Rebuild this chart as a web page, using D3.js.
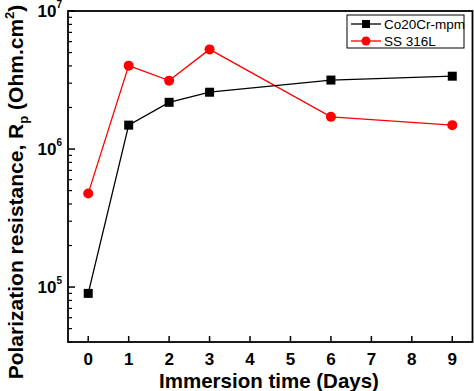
<!DOCTYPE html>
<html><head><meta charset="utf-8">
<script src="https://cdn.jsdelivr.net/npm/d3@7"></script>
<style>body{margin:0;background:#fff}svg{display:block}</style>
</head><body>
<script>
const days = [0, 1, 2, 3, 6, 9];
const coCr = [9.0e4, 1.49e6, 2.18e6, 2.58e6, 3.16e6, 3.37e6];
const ss316 = [4.77e5, 4.02e6, 3.13e6, 5.27e6, 1.71e6, 1.49e6];
const seriesNames = ["Co20Cr-mpm", "SS 316L"];
const xTicks = [0,1,2,3,4,5,6,7,8,9];
const yMajor = [1e5, 1e6, 1e7];

const W = 474, H = 391;
const L = 68, R = 472.5, T = 11, B = 342;
const svg = d3.select("body").append("svg").attr("width", W).attr("height", H);
const x = d3.scaleLinear().domain([-0.5, 9.5]).range([L, R]);
const y = d3.scaleLog().domain([4e4, 1e7]).range([B, T]);
const font = "'Liberation Sans', Arial, sans-serif";

const minor = [];
for (let e = 4; e < 7; e++) for (let m = 2; m <= 9; m++) { const v = m * Math.pow(10, e); if (v >= 4e4 && v < 1e7) minor.push(v); }

const yAxis = svg.append("g").attr("transform", `translate(${L},0)`);
yAxis.selectAll("line.minor").data(minor).join("line")
  .attr("x1", 0).attr("x2", 4).attr("y1", d => y(d)).attr("y2", d => y(d))
  .attr("stroke", "#000").attr("stroke-width", 1.2);
yAxis.selectAll("line.major").data(yMajor).join("line")
  .attr("x1", 0).attr("x2", 7).attr("y1", d => y(d)).attr("y2", d => y(d))
  .attr("stroke", "#000").attr("stroke-width", 1.5);
const yl = yAxis.selectAll("text").data(yMajor).join("text")
  .attr("x", -6).attr("y", d => y(d) + 6).attr("text-anchor", "end")
  .attr("font-family", font).attr("font-weight", "bold").attr("font-size", 17).attr("fill", "#000");
yl.append("tspan").text("10");
yl.append("tspan").text(d => Math.round(Math.log10(d))).attr("font-size", 10).attr("dy", -9);

const xAxis = svg.append("g");
xAxis.selectAll("line").data(xTicks).join("line")
  .attr("x1", d => x(d)).attr("x2", d => x(d)).attr("y1", B).attr("y2", B - 6)
  .attr("stroke", "#000").attr("stroke-width", 1.5);
xAxis.selectAll("text").data(xTicks).join("text")
  .attr("x", d => x(d)).attr("y", B + 23).attr("text-anchor", "middle")
  .attr("font-family", font).attr("font-weight", "bold").attr("font-size", 17).text(d => d);

svg.append("rect").attr("x", L).attr("y", T).attr("width", R - L).attr("height", B - T)
  .attr("fill", "none").attr("stroke", "#000").attr("stroke-width", 1.8);

svg.append("text").attr("x", 269).attr("y", 388).attr("text-anchor", "middle")
  .attr("font-family", font).attr("font-weight", "bold").attr("font-size", 20.5).text("Immersion time (Days)");
const yt = svg.append("text").attr("transform", `translate(23,192) rotate(-90)`)
  .attr("text-anchor", "middle").attr("font-family", font).attr("font-weight", "bold").attr("font-size", 21);
yt.append("tspan").text("Polarization resistance, R");
yt.append("tspan").text("p").attr("font-size", 13).attr("dy", 5);
yt.append("tspan").text(" (Ohm.cm").attr("dy", -5);
yt.append("tspan").text("2").attr("font-size", 13).attr("dy", -9);
yt.append("tspan").text(")").attr("dy", 9);

const line = d3.line().x(d => x(d[0])).y(d => y(d[1]));
const dataBlack = days.map((d, i) => [d, coCr[i]]);
const dataRed = days.map((d, i) => [d, ss316[i]]);
const RED = "#ff0000";
svg.append("path").datum(dataRed).attr("d", line).attr("fill", "none").attr("stroke", RED).attr("stroke-width", 1.3);
svg.append("path").datum(dataBlack).attr("d", line).attr("fill", "none").attr("stroke", "#000").attr("stroke-width", 1.3);
svg.selectAll("circle.red").data(dataRed).join("circle")
  .attr("cx", d => x(d[0])).attr("cy", d => y(d[1])).attr("r", 5).attr("fill", RED);
svg.selectAll("rect.blk").data(dataBlack).join("rect")
  .attr("x", d => x(d[0]) - 4.5).attr("y", d => y(d[1]) - 4.5).attr("width", 9).attr("height", 9).attr("fill", "#000");

const lg = svg.append("g");
lg.append("rect").attr("x", 347).attr("y", 15).attr("width", 117).attr("height", 33)
  .attr("fill", "#fff").attr("stroke", "#000").attr("stroke-width", 1);
const colors = ["#000", RED];
seriesNames.forEach((n, i) => {
  const yy = 24 + i * 17;
  lg.append("line").attr("x1", 351).attr("x2", 381).attr("y1", yy).attr("y2", yy).attr("stroke", colors[i]).attr("stroke-width", 1.3);
  if (i === 0) lg.append("rect").attr("x", 366 - 4).attr("y", yy - 4).attr("width", 8).attr("height", 8).attr("fill", "#000");
  else lg.append("circle").attr("cx", 366).attr("cy", yy).attr("r", 4.5).attr("fill", RED);
  lg.append("text").attr("x", 384).attr("y", yy + 5).attr("font-family", font).attr("font-size", 13.5).text(n);
});
</script>
</body></html>
